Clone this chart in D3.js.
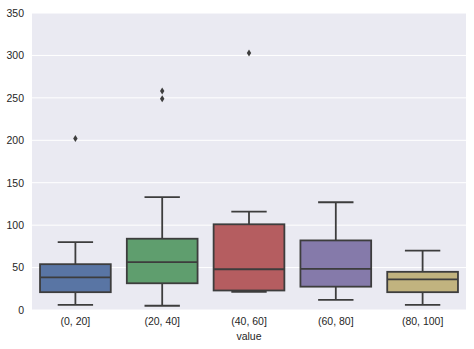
<!DOCTYPE html>
<html><head><meta charset="utf-8">
<script src="https://cdn.jsdelivr.net/npm/d3@7"></script>
<style>body{margin:0;background:#fff;} text{font-family:"Liberation Sans",Arial,sans-serif;}</style>
</head><body><svg id="c" width="474" height="349"></svg>
<script>
const categories = ["(0, 20]", "(20, 40]", "(40, 60]", "(60, 80]", "(80, 100]"];
const whiskerLow = [6, 5, 21.5, 12, 6];
const q1 = [21, 31.5, 23, 27.5, 21];
const median = [38.5, 56.5, 48, 48.5, 36];
const q3 = [54, 84, 101, 82, 45];
const whiskerHigh = [80, 133, 116, 127, 70];
const outliers = [[202], [258, 249], [303], [], []];
const colors = ["#4C72B0", "#55A868", "#C44E52", "#8172B2", "#CCB974"];
const yTicks = [0, 50, 100, 150, 200, 250, 300, 350];

const svg = d3.select("#c");
const m = {l: 32, r: 8, t: 13, b: 39};
const W = 474, H = 349;
const x = d3.scaleBand().domain(categories).range([m.l, W - m.r]).paddingInner(0).paddingOuter(0);
const y = d3.scaleLinear().domain([0, 350]).range([H - m.b, m.t]);

svg.append("rect").attr("x", m.l).attr("y", m.t).attr("width", W - m.l - m.r).attr("height", H - m.t - m.b).attr("fill", "#EAEAF2");
svg.append("g").selectAll("line").data(yTicks).join("line")
  .attr("x1", m.l).attr("x2", W - m.r).attr("y1", d => y(d)).attr("y2", d => y(d))
  .attr("stroke", "#fff").attr("stroke-width", 1);

const yAxis = d3.axisLeft(y).tickValues(yTicks).tickSize(0).tickPadding(8);
const gy = svg.append("g").attr("transform", `translate(${m.l},0)`).call(yAxis);
gy.select(".domain").remove();
gy.selectAll("text").attr("font-size", 10.5).attr("fill", "#262626").style("font-family", "'Liberation Sans',Arial,sans-serif");

const xAxis = d3.axisBottom(x).tickSize(0).tickPadding(8);
const gx = svg.append("g").attr("transform", `translate(0,${H - m.b})`).call(xAxis);
gx.select(".domain").remove();
gx.selectAll("text").attr("font-size", 10.5).attr("fill", "#262626").style("font-family", "'Liberation Sans',Arial,sans-serif");

svg.append("text").attr("x", (m.l + W - m.r) / 2).attr("y", 340).attr("text-anchor", "middle")
  .attr("font-size", 10.5).attr("fill", "#262626").text("value");

function desat(c) { const h = d3.hsl(c); h.s *= 0.75; return h.formatHex(); }
const lineCol = "#3d3d3d";
const bw = x.bandwidth() * 0.815;
const g = svg.append("g");
categories.forEach((c, i) => {
  const cx = x(c) + x.bandwidth() / 2;
  const gg = g.append("g");
  gg.append("line").attr("x1", cx).attr("x2", cx).attr("y1", y(q3[i])).attr("y2", y(whiskerHigh[i])).attr("stroke", lineCol).attr("stroke-width", 1.8);
  gg.append("line").attr("x1", cx).attr("x2", cx).attr("y1", y(q1[i])).attr("y2", y(whiskerLow[i])).attr("stroke", lineCol).attr("stroke-width", 1.8);
  [whiskerHigh[i], whiskerLow[i]].forEach(v => {
    gg.append("line").attr("x1", cx - bw / 4).attr("x2", cx + bw / 4).attr("y1", y(v)).attr("y2", y(v)).attr("stroke", lineCol).attr("stroke-width", 1.8);
  });
  gg.append("rect").attr("x", cx - bw / 2).attr("width", bw).attr("y", y(q3[i])).attr("height", y(q1[i]) - y(q3[i]))
    .attr("fill", desat(colors[i])).attr("stroke", lineCol).attr("stroke-width", 1.8);
  gg.append("line").attr("x1", cx - bw / 2).attr("x2", cx + bw / 2).attr("y1", y(median[i])).attr("y2", y(median[i])).attr("stroke", lineCol).attr("stroke-width", 1.8);
  outliers[i].forEach(v => {
    const py = y(v);
    gg.append("path").attr("d", `M${cx},${py - 3.5}L${cx + 2.2},${py}L${cx},${py + 3.5}L${cx - 2.2},${py}Z`).attr("fill", lineCol);
  });
});
</script></body></html>
